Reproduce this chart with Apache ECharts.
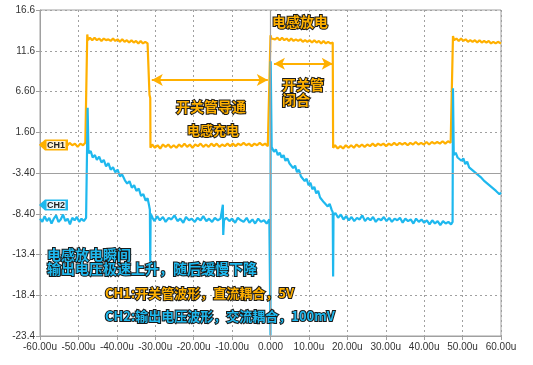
<!DOCTYPE html>
<html>
<head>
<meta charset="utf-8">
<script src="https://cdn.jsdelivr.net/npm/echarts@6/dist/echarts.min.js"></script>
<style>html,body{margin:0;padding:0;background:#fff}#c{width:533px;height:365px}</style>
</head>
<body>
<div id="c"></div>
<script>
// ---- tick labels ----
const xTickLabels = ['-60.00u','-50.00u','-40.00u','-30.00u','-20.00u','-10.00u','0.000','10.00u','20.00u','30.00u','40.00u','50.00u','60.00u'];
const yTickLabels = ['-23.4','-18.4','-13.4','-8.40','-3.40','1.60','6.60','11.6','16.6'];
const yMin = -23.4, yMax = 16.6;

// ---- CH1: switch waveform [time(us), value] ----
const ch1Data = [
 [-60,0.0],[-59.3,0.3],[-58.6,-0.1],[-57.9,0.2],[-57.2,-0.2],[-56.5,0.2],[-55.8,0.0],[-55.1,0.3],[-54.4,-0.2],[-53.7,0.1],
 [-53.0,-0.1],[-52.3,0.3],[-51.6,0.0],[-50.9,0.2],[-50.2,-0.2],[-49.5,0.2],[-48.8,0.0],[-48.2,0.3],[-47.8,0.1],
 [-47.7,13.6],[-47.5,12.9],[-47.0,13.2],[-46.4,12.9],[-45.8,13.2],[-45.2,12.9],[-44.6,13.1],[-44.0,12.8],[-43.4,13.1],
 [-42.8,12.9],[-42.2,13.0],[-41.6,12.8],[-41.0,13.1],[-40.4,12.8],[-39.8,13.0],[-39.2,12.7],[-38.6,13.0],[-38.0,12.7],
 [-37.4,12.9],[-36.8,12.6],[-36.2,12.9],[-35.6,12.6],[-35.0,12.8],[-34.4,12.5],[-33.8,12.8],[-33.2,12.5],[-32.6,12.7],
 [-32.0,12.5],[-31.55,12.6],[-31.5,6.2],[-31.3,5.8],[-31.25,-0.3],
 [-30.8,0.1],[-30.1,-0.3],[-29.4,0.0],[-28.7,-0.4],[-28.0,0.1],[-27.3,-0.2],[-26.6,0.1],[-25.9,-0.3],[-25.2,0.0],[-24.5,-0.3],
 [-23.8,0.1],[-23.1,-0.2],[-22.4,0.2],[-21.7,-0.2],[-21.0,0.1],[-20.3,-0.3],[-19.6,0.1],[-18.9,-0.1],[-18.2,0.2],[-17.5,-0.2],
 [-16.8,0.1],[-16.1,-0.2],[-15.4,0.2],[-14.7,-0.1],[-14.0,0.2],[-13.3,-0.2],[-12.6,0.1],[-11.9,-0.1],[-11.2,0.2],[-10.5,-0.1],
 [-9.8,0.2],[-9.1,-0.1],[-8.4,0.2],[-7.7,0.0],[-7.0,0.3],[-6.3,0.0],[-5.6,0.2],[-4.9,-0.1],[-4.2,0.2],[-3.5,0.0],
 [-2.8,0.3],[-2.1,0.0],[-1.4,0.2],[-0.7,-0.1],[-0.2,0.1],
 [0.0,13.5],[0.2,13.1],[0.6,13.3],[1.2,13.0],[1.8,13.2],[2.4,12.9],[3.0,13.2],[3.6,12.9],[4.2,13.1],[4.8,12.8],[5.4,13.1],
 [6.0,12.8],[6.6,13.0],[7.2,12.8],[7.8,13.0],[8.4,12.7],[9.0,12.9],[9.6,12.7],[10.2,12.9],[10.8,12.6],[11.4,12.9],
 [12.0,12.6],[12.6,12.8],[13.2,12.5],[13.8,12.8],[14.4,12.5],[15.0,12.7],[15.6,12.5],[16.2,12.6],[16.3,-0.3],
 [16.8,0.0],[17.5,-0.4],[18.2,-0.1],[18.9,-0.4],[19.6,0.0],[20.3,-0.3],[21.0,0.0],[21.7,-0.3],[22.4,0.1],[23.1,-0.2],
 [23.8,0.1],[24.5,-0.2],[25.2,0.1],[25.9,-0.1],[26.6,0.2],[27.3,-0.1],[28.0,0.2],[28.7,0.0],[29.4,0.2],[30.1,-0.1],
 [30.8,0.2],[31.5,0.0],[32.2,0.3],[32.9,0.0],[33.6,0.3],[34.3,0.1],[35.0,0.3],[35.7,0.0],[36.4,0.3],[37.1,0.1],
 [37.8,0.4],[38.5,0.1],[39.2,0.3],[39.9,0.1],[40.6,0.4],[41.3,0.1],[42.0,0.4],[42.7,0.2],[43.4,0.4],[44.1,0.2],
 [44.8,0.5],[45.5,0.2],[46.2,0.5],[46.9,0.3],[47.4,0.4],
 [47.5,13.4],[47.8,12.9],[48.4,13.1],[49.0,12.8],[49.6,13.1],[50.2,12.8],[50.8,13.0],[51.4,12.7],[52.0,12.9],[52.6,12.7],
 [53.2,12.9],[53.8,12.6],[54.4,12.9],[55.0,12.6],[55.6,12.8],[56.2,12.6],[56.8,12.8],[57.4,12.5],[58.0,12.7],[58.6,12.5],
 [59.2,12.7],[60.0,12.5]
];

// ---- CH2: output voltage ripple [time(us), value] ----
const ch2Data = [
 [-60,-9.0],[-59.4,-9.4],[-58.8,-8.7],[-58.2,-9.3],[-57.6,-8.9],[-57.0,-9.6],[-56.4,-9.0],[-55.8,-8.6],[-55.2,-9.4],[-54.6,-9.1],
 [-54.0,-8.5],[-53.4,-9.3],[-52.8,-9.0],[-52.2,-9.7],[-51.6,-8.9],[-51.0,-9.2],[-50.4,-8.8],[-49.8,-9.4],[-49.2,-9.0],[-48.6,-9.3],
 [-48.0,-8.9],[-47.7,-9.1],[-47.6,4.6],[-47.4,-0.6],
 [-47.3,-1.0],[-46.8,-0.7],[-46.3,-1.5],[-45.7,-1.2],[-45.2,-1.8],[-44.6,-1.4],[-44.0,-2.1],[-43.4,-1.8],[-42.8,-2.6],[-42.2,-2.2],
 [-41.6,-3.0],[-41.0,-2.7],[-40.4,-3.3],[-39.8,-3.0],[-39.2,-3.8],[-38.6,-3.6],[-37.9,-4.3],[-37.3,-4.7],[-36.7,-4.4],[-36.1,-5.2],
 [-35.5,-4.9],[-34.9,-5.6],[-34.3,-5.3],[-33.7,-6.2],[-33.1,-6.0],[-32.5,-6.8],[-32.0,-6.5],[-31.6,-7.4],[-31.4,-7.9],
 [-31.3,-14.3],[-31.2,-8.4],[-30.7,-8.9],
 [-30.2,-9.3],[-29.5,-8.7],[-28.8,-9.2],[-28.0,-8.8],[-27.3,-9.4],[-26.5,-8.9],[-25.8,-9.1],[-25.0,-8.6],[-24.2,-9.3],[-23.5,-9.0],
 [-22.7,-9.5],[-22.0,-8.8],[-21.2,-9.2],[-20.5,-9.0],[-19.7,-9.4],[-19.0,-8.9],[-18.2,-9.2],[-17.5,-8.7],[-16.7,-9.3],[-16.0,-9.0],
 [-15.2,-9.4],[-14.5,-8.9],[-13.7,-9.2],[-13.0,-9.0],[-12.4,-7.3],[-12.3,-11.0],[-12.1,-9.2],[-11.5,-8.9],[-10.7,-9.3],[-10.0,-9.0],
 [-9.2,-9.5],[-8.5,-8.9],[-7.7,-9.2],[-7.0,-9.4],[-6.2,-8.9],[-5.5,-9.5],[-4.7,-9.1],[-4.0,-9.6],[-3.2,-9.0],[-2.5,-9.4],
 [-1.7,-9.2],[-1.0,-9.6],[-0.3,-9.1],
 [0.0,-23.3],[0.05,10.3],[0.3,-0.2],
 [0.4,-0.2],[0.9,-0.8],[1.4,-0.5],[1.9,-1.2],[2.4,-0.9],[2.9,-1.5],[3.4,-1.2],[3.9,-1.9],[4.4,-1.6],[4.9,-2.2],
 [5.4,-2.0],[5.9,-2.8],[6.4,-2.5],[6.9,-3.3],[7.4,-3.0],[7.9,-3.8],[8.4,-3.6],[8.9,-4.4],[9.4,-4.1],[9.9,-4.9],
 [10.4,-4.6],[10.9,-5.4],[11.4,-5.1],[11.9,-5.9],[12.4,-5.6],[12.9,-6.4],[13.4,-6.2],[13.9,-7.0],[14.4,-6.8],[14.9,-7.5],
 [15.4,-7.2],[15.9,-7.9],[16.2,-8.2],[16.3,-16.1],[16.4,-8.6],[16.9,-8.3],
 [17.6,-8.9],[18.3,-8.5],[19.0,-9.1],[19.7,-8.7],[20.4,-9.2],[21.1,-8.8],[21.8,-9.3],[22.5,-8.9],[23.2,-9.1],[23.9,-8.6],
 [24.6,-9.3],[25.3,-8.9],[26.0,-9.2],[26.7,-8.8],[27.4,-9.4],[28.1,-9.0],[28.8,-9.2],[29.5,-8.8],[30.2,-9.3],[30.9,-8.9],
 [31.6,-9.4],[32.3,-9.0],[33.0,-9.2],[33.7,-8.9],[34.4,-9.5],[35.1,-9.0],[35.8,-9.3],[36.5,-9.1],[37.2,-9.6],[37.9,-9.0],
 [38.6,-9.4],[39.3,-9.1],[40.0,-9.5],[40.7,-9.2],[41.4,-9.7],[42.1,-9.2],[42.8,-9.6],[43.5,-9.3],[44.2,-9.8],[44.9,-9.3],
 [45.6,-9.6],[46.3,-9.4],[47.0,-9.7],[47.4,-9.4],
 [47.5,7.0],[47.7,-1.2],
 [48.2,-0.9],[48.7,-1.5],[49.2,-1.3],[49.7,-1.9],[50.2,-1.6],[50.7,-2.3],[51.2,-2.0],[51.7,-2.7],[52.2,-2.5],[52.7,-3.1],
 [53.2,-2.9],[53.7,-3.5],[54.2,-3.3],[54.7,-3.9],[55.2,-3.7],[55.7,-4.4],[56.2,-4.2],[56.7,-4.8],[57.2,-4.6],[57.7,-5.2],
 [58.2,-5.0],[58.7,-5.6],[59.2,-5.4],[59.6,-6.0],[60.0,-5.8]
];

// annotation arrows (time, level)
const arrowOn = [[-30.9, 8.0], [-0.7, 8.0]];
const arrowOff = [[0.9, 10.0], [16.2, 10.0]];

const ORANGE = '#FFB000';
const CYAN = '#1EB8EE';
const GRIDC = '#a0a0a0';
const CJK = '"Noto Sans CJK SC", "Noto Sans", sans-serif';

function outlined(text, x, y, color, size) {
  const font = 'bold ' + size + 'px ' + CJK;
  return [
    { type: 'text', x: x, y: y, z: 50, silent: true,
      style: { text: text, font: font, fill: '#1a1a1a', stroke: '#1a1a1a', lineWidth: 2, lineJoin: 'round', verticalAlign: 'middle', align: 'left' } },
    { type: 'text', x: x, y: y, z: 51, silent: true,
      style: { text: text, font: font, fill: color, verticalAlign: 'middle', align: 'left' } }
  ];
}

function chTag(label, y, color, light) {
  return [
    { type: 'polygon', z: 40, silent: true,
      shape: { points: [[39, y], [45, y - 5.5], [68, y - 5.5], [68, y + 5.5], [45, y + 5.5]] },
      style: { fill: color } },
    { type: 'rect', z: 41, silent: true,
      shape: { x: 46.5, y: y - 4, width: 19, height: 8 }, style: { fill: light } },
    { type: 'text', x: 56, y: y + 0.5, z: 42, silent: true,
      style: { text: label, font: 'bold 9px "Liberation Sans", sans-serif', fill: '#222', align: 'center', verticalAlign: 'middle' } }
  ];
}

const graphics = [].concat(
  outlined('电感放电', 272, 22, ORANGE, 14),
  outlined('开关管导通', 176, 107, ORANGE, 14),
  outlined('电感充电', 187, 130, ORANGE, 13),
  outlined('开关管', 282, 85, ORANGE, 14),
  outlined('闭合', 282, 100, ORANGE, 14),
  outlined('电感放电瞬间', 47, 255, CYAN, 14),
  outlined('输出电压极速上升，随后缓慢下降', 47, 269, CYAN, 14),
  outlined('CH1:开关管波形，直流耦合，5V', 105, 293, ORANGE, 13),
  outlined('CH2:输出电压波形，交流耦合，100mV', 105, 316, CYAN, 13),
  chTag('CH1', 145, ORANGE, '#FFF1D0'),
  chTag('CH2', 205, CYAN, '#E4F6FD')
);

const chart = echarts.init(document.getElementById('c'), null, { renderer: 'canvas' });
chart.setOption({
  animation: false,
  backgroundColor: '#fff',
  grid: { left: 40, right: 32, top: 10, bottom: 29, show: true, borderColor: GRIDC, borderWidth: 1, backgroundColor: 'transparent' },
  xAxis: {
    type: 'value', min: -60, max: 60, interval: 10,
    axisLine: { show: true, onZero: false, lineStyle: { color: GRIDC } },
    axisTick: { show: true, length: 4, lineStyle: { color: GRIDC } },
    axisLabel: { color: '#333', fontSize: 10, fontFamily: '"Liberation Sans", Arial, sans-serif', margin: 6,
      showMinLabel: true, showMaxLabel: true, hideOverlap: false,
      formatter: v => xTickLabels[Math.round((v + 60) / 10)] },
    splitLine: { show: true, lineStyle: { color: GRIDC, type: [2, 3], width: 1 } }
  },
  yAxis: [
    { type: 'value', min: yMin, max: yMax, show: false, position: 'left', splitLine: { show: false } },
    { type: 'value', min: 0, max: 40, interval: 5, position: 'left',
      axisLine: { show: true, onZero: false, lineStyle: { color: GRIDC } },
      axisTick: { show: true, length: 4, lineStyle: { color: GRIDC } },
      axisLabel: { color: '#333', fontSize: 10, fontFamily: '"Liberation Sans", Arial, sans-serif', margin: 5,
        showMinLabel: true, showMaxLabel: true, hideOverlap: false,
        formatter: v => yTickLabels[Math.round(v / 5)] },
      splitLine: { show: true, lineStyle: { color: GRIDC, type: [2, 3], width: 1 } }
    }
  ],
  series: [
    { type: 'line', name: 'center', yAxisIndex: 0, data: [], z: 1, silent: true,
      markLine: { silent: true, symbol: 'none', label: { show: false },
        lineStyle: { color: GRIDC, type: 'solid', width: 1.2 },
        data: [{ xAxis: 0 }, { yAxis: -3.4 }] } },
    { type: 'line', name: 'CH1', yAxisIndex: 0, data: ch1Data, showSymbol: false, z: 3,
      lineStyle: { color: ORANGE, width: 2.2 }, itemStyle: { color: ORANGE },
      markLine: { silent: true, symbol: ['arrow', 'arrow'], symbolSize: [9, 11], label: { show: false },
        lineStyle: { color: ORANGE, type: 'solid', width: 2 },
        data: [
          [{ coord: arrowOn[0] }, { coord: arrowOn[1] }],
          [{ coord: arrowOff[0] }, { coord: arrowOff[1] }]
        ] } },
    { type: 'line', name: 'CH2', yAxisIndex: 0, data: ch2Data, showSymbol: false, z: 4,
      lineStyle: { color: CYAN, width: 2.2 }, itemStyle: { color: CYAN } }
  ],
  graphic: graphics
});
</script>
</body>
</html>
